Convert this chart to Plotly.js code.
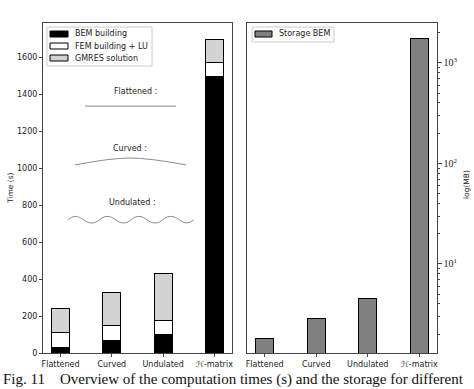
<!DOCTYPE html>
<html>
<head>
<meta charset="utf-8">
<script src="https://cdn.plot.ly/plotly-3.0.1.min.js"></script>
<style>html,body{margin:0;padding:0;background:#fff;}#chart{width:474px;height:389px;}</style>
</head>
<body>
<div id="chart"></div>
<script>
// ---- data ----
var categories = ["Flattened", "Curved", "Undulated", "\u210B-matrix"];
var seriesNames = ["BEM building", "FEM building + LU", "GMRES solution"];
var bemBuilding = [30, 67, 101, 1497];
var femBuilding = [80, 79, 77, 74];
var gmresSolution = [130, 182, 251, 124];
var storageName = "Storage BEM";
var storageBEM = [1.8, 2.86, 4.56, 1764];
var timeTicks = [0, 200, 400, 600, 800, 1000, 1200, 1400, 1600];
var logTicks = [10, 100, 1000];
var logTickText = ["10<sup>1</sup>", "10<sup>2</sup>", "10<sup>3</sup>"];
var minorLogTicks = [2, 3, 4, 5, 6, 7, 8, 9, 20, 30, 40, 50, 60, 70, 80, 90,
                     200, 300, 400, 500, 600, 700, 800, 900, 2000];

// inset illustration shapes (fractions of the left axes box)
var flatLabel = "Flattened :";
var flatX = [0.222, 0.704];
var flatY = [0.748, 0.748];
var curvedLabel = "Curved :";
var curvedX = [0.169, 0.460, 0.757];
var curvedY = [0.570, 0.591, 0.570];
var wavyLabel = "Undulated :";
var wavyX = [0.132, 0.171, 0.259, 0.339, 0.427, 0.506, 0.594, 0.674, 0.762, 0.797];
var wavyY = [0.404, 0.414, 0.394, 0.414, 0.394, 0.414, 0.394, 0.414, 0.394, 0.404];

var caption = "Fig. 11\u00a0\u00a0\u00a0\u00a0Overview of the computation times (s) and the storage for different";

// ---- layout helpers (pixel -> paper) ----
var W = 474, H = 389;
function px(x) { return x / W; }
function py(y) { return 1 - y / H; }

var FONT = "DejaVu Sans, sans-serif";
var colors = ["#000000", "#ffffff", "#d3d3d3"];
var stackVals = [bemBuilding, femBuilding, gmresSolution];

var traces = [];
for (var i = 0; i < 3; i++) {
  traces.push({
    type: "bar", x: categories, y: stackVals[i], name: seriesNames[i],
    width: 0.35, marker: {color: colors[i], line: {color: "#000", width: 1}},
    xaxis: "x", yaxis: "y", showlegend: false, hoverinfo: "skip"
  });
}
traces.push({
  type: "bar", x: categories, y: storageBEM, name: storageName,
  width: 0.35, marker: {color: "#808080", line: {color: "#000", width: 1}},
  xaxis: "x2", yaxis: "y2", showlegend: false, hoverinfo: "skip"
});
traces.push({type: "scatter", mode: "lines", x: flatX, y: flatY, line: {color: "#8a8a8a", width: 1}, xaxis: "x3", yaxis: "y3", showlegend: false, hoverinfo: "skip"});
traces.push({type: "scatter", mode: "lines", x: curvedX, y: curvedY, line: {color: "#8a8a8a", width: 1, shape: "spline", smoothing: 1}, xaxis: "x3", yaxis: "y3", showlegend: false, hoverinfo: "skip"});
traces.push({type: "scatter", mode: "lines", x: wavyX, y: wavyY, line: {color: "#8a8a8a", width: 1, shape: "spline", smoothing: 1.3}, xaxis: "x3", yaxis: "y3", showlegend: false, hoverinfo: "skip"});

var leftDom = [px(43), px(232)];
var rightDom = [px(247), px(437)];
var yDom = [py(353), py(23)];
var axColor = "#444";

var layout = {
  width: W, height: H,
  margin: {l: 0, r: 0, t: 0, b: 0},
  paper_bgcolor: "#fff", plot_bgcolor: "#fff",
  barmode: "stack",
  showlegend: false,
  font: {family: FONT, size: 8, color: "#222"},
  xaxis: {
    domain: leftDom, type: "category", range: [-0.3425, 3.3425],
    showline: true, mirror: true, linecolor: axColor, linewidth: 1,
    ticks: "outside", ticklen: 3, tickcolor: axColor, showgrid: false, zeroline: false,
    tickfont: {family: FONT, size: 8, color: "#222"}, fixedrange: true
  },
  yaxis: {
    domain: yDom, range: [0, 1784],
    tickvals: timeTicks, ticktext: timeTicks.map(String),
    showline: true, mirror: true, linecolor: axColor, linewidth: 1,
    ticks: "outside", ticklen: 3, tickcolor: axColor, showgrid: false, zeroline: false,
    tickfont: {family: FONT, size: 8, color: "#222"}, fixedrange: true
  },
  xaxis2: {
    domain: rightDom, type: "category", range: [-0.3425, 3.3425], anchor: "y2",
    showline: true, mirror: true, linecolor: axColor, linewidth: 1,
    ticks: "outside", ticklen: 3, tickcolor: axColor, showgrid: false, zeroline: false,
    tickfont: {family: FONT, size: 8, color: "#222"}, fixedrange: true
  },
  yaxis2: {
    domain: yDom, type: "log", range: [Math.log10(1.3), Math.log10(2500)], anchor: "x2", side: "right",
    tickmode: "array", tickvals: logTicks, ticktext: logTickText,
    showline: true, mirror: true, linecolor: axColor, linewidth: 1,
    ticks: "outside", ticklen: 3.5, tickcolor: axColor, showgrid: false, zeroline: false,
    minor: {tickmode: "array", tickvals: minorLogTicks, ticks: "outside", ticklen: 2, tickcolor: axColor, showgrid: false},
    tickfont: {family: "Liberation Serif, DejaVu Serif, serif", size: 10, color: "#222"}, fixedrange: true
  },
  xaxis3: {overlaying: "x", anchor: "y3", range: [0, 1], visible: false, fixedrange: true},
  yaxis3: {overlaying: "y", anchor: "x3", range: [0, 1], visible: false, fixedrange: true},
  shapes: [],
  annotations: []
};

// inset labels
function insetText(t, xf, yf) {
  layout.annotations.push({text: t, xref: "x3", yref: "y3", x: xf, y: yf, showarrow: false,
    font: {family: FONT, size: 8, color: "#222"}, xanchor: "center", yanchor: "middle"});
}
insetText(flatLabel, 0.487, 0.791);
insetText(curvedLabel, 0.460, 0.621);
insetText(wavyLabel, 0.471, 0.455);

// axis titles
layout.annotations.push({text: "Time (s)", xref: "paper", yref: "paper", x: px(10), y: py(188), textangle: -90,
  showarrow: false, font: {family: FONT, size: 7.5, color: "#222"}, xanchor: "center", yanchor: "middle"});
layout.annotations.push({text: "log(MB)", xref: "paper", yref: "paper", x: px(467), y: py(185), textangle: -90,
  showarrow: false, font: {family: FONT, size: 7.5, color: "#222"}, xanchor: "center", yanchor: "middle"});

// caption
layout.annotations.push({text: caption, xref: "paper", yref: "paper", x: px(1), y: py(379),
  showarrow: false, font: {family: "Liberation Serif, Times New Roman, serif", size: 15, color: "#111"},
  xanchor: "left", yanchor: "middle"});

// manual legends (matplotlib-like wide swatches)
function legendBox(x0, y0, x1, y1) {
  layout.shapes.push({type: "rect", xref: "paper", yref: "paper", x0: px(x0), x1: px(x1), y0: py(y0), y1: py(y1),
    line: {color: "#cccccc", width: 1}, fillcolor: "rgba(255,255,255,0.8)", layer: "above"});
}
function legendEntry(name, color, sx0, sx1, cy, tx) {
  layout.shapes.push({type: "rect", xref: "paper", yref: "paper", x0: px(sx0), x1: px(sx1), y0: py(cy + 3), y1: py(cy - 3),
    line: {color: "#000", width: 1}, fillcolor: color, layer: "above"});
  layout.annotations.push({text: name, xref: "paper", yref: "paper", x: px(tx), y: py(cy), showarrow: false,
    xanchor: "left", yanchor: "middle", font: {family: FONT, size: 8, color: "#222"}});
}
legendBox(47, 27, 152, 66);
var legY = [34, 46, 58];
for (var k = 0; k < 3; k++) legendEntry(seriesNames[k], colors[k], 50, 68, legY[k], 73);
legendBox(252, 27, 334, 42);
legendEntry(storageName, "#808080", 255, 272, 34, 277);

Plotly.newPlot("chart", traces, layout, {staticPlot: true, displayModeBar: false});
</script>
</body>
</html>
